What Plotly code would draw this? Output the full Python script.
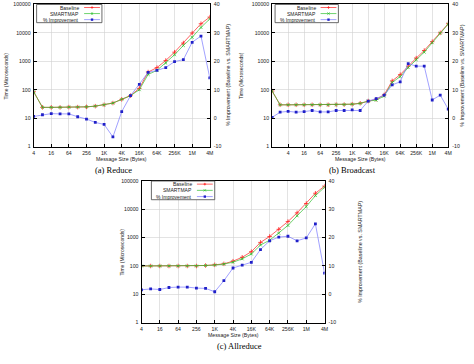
import math
import plotly.graph_objects as go

# ---------------- data ----------------
msg_sizes_reduce = [4, 8, 16, 32, 64, 128, 256, 512, 1024, 2048, 4096, 8192, 16384, 32768,
                    65536, 131072, 262144, 524288, 1048576, 2097152, 4194304]
msg_sizes_bcast = [1, 2, 4, 8, 16, 32, 64, 128, 256, 512, 1024, 2048, 4096, 8192, 16384, 32768,
                   65536, 131072, 262144, 524288, 1048576, 2097152, 4194304]
msg_sizes_allreduce = [4, 8, 16, 32, 64, 128, 256, 512, 1024, 2048, 4096, 8192, 16384, 32768,
                       65536, 131072, 262144, 524288, 1048576, 2097152, 4194304]

reduce_baseline = [85, 24, 24, 24, 24.5, 24.5, 25, 26.5, 29.5, 34, 46, 62, 112, 420, 600,
                   1070, 2100, 4400, 9900, 21000, 36000]
reduce_smartmap = [85, 24, 24, 24, 24.5, 24.5, 25, 26.5, 29.5, 34, 46, 62, 100, 345, 480,
                   870, 1700, 3600, 7000, 15500, 31000]
reduce_improvement = [0.6, 1.2, 1.6, 1.5, 1.5, 0.5, -0.3, -1.5, -2.2, -6.6, 2.3, 7.9, 11.9,
                      16.1, 16.8, 17.8, 19.9, 20.6, 26.7, 28.9, 14.2]

bcast_baseline = [90, 29.5, 29.5, 29.5, 29.5, 29.5, 29.5, 29.5, 30, 30, 31, 33.5, 40, 46, 66,
                  205, 340, 680, 1300, 2400, 4900, 10000, 21000]
bcast_smartmap = [90, 29.5, 29.5, 29.5, 29.5, 29.5, 29.5, 29.5, 30, 30, 31, 33, 40, 43, 60,
                  180, 290, 600, 1150, 2100, 4500, 9800, 20500]
bcast_improvement = [0.3, 2.1, 2.4, 2.1, 2.3, 2.7, 2.2, 2.2, 2.7, 2.7, 2.9, 2.7, 6.0, 6.9, 8.1,
                     11.7, 12.8, 19.2, 18.3, 18.3, 6.4, 8.1, 3.2]

allreduce_baseline = [100, 100, 100, 100, 100, 100, 100, 104, 110, 119, 148, 203, 320, 680,
                      1100, 1970, 3700, 7500, 16000, 37000, 66000]
allreduce_smartmap = [100, 100, 100, 100, 100, 100, 100, 104, 108, 117, 136, 178, 265, 550,
                      810, 1430, 2700, 5900, 12500, 30500, 60000]
allreduce_improvement = [1.6, 1.9, 1.7, 2.4, 2.55, 2.55, 2.2, 2.1, 0.9, 4.8, 9.3, 10.3, 11.3,
                         15.8, 18.9, 20.2, 20.5, 18.9, 19.9, 24.9, 7.5]

x_tick_vals = [4, 16, 64, 256, 1024, 4096, 16384, 65536, 262144, 1048576, 4194304]
x_tick_text = ["4", "16", "64", "256", "1K", "4K", "16K", "64K", "256K", "1M", "4M"]
time_tick_vals = [1, 10, 100, 1000, 10000, 100000]
time_tick_text = ["1", "10", "100", "1000", "10000", "100000"]
pct_tick_vals = [-10, 0, 10, 20, 30, 40]
pct_tick_text = ["-10", "0", "10", "20", "30", "40"]

series_names = ["Baseline", "SMARTMAP", "% Improvement"]
captions = ["(a) Reduce", "(b) Broadcast", "(c) Allreduce"]
x_title = "Message Size (Bytes)"
left_title = "Time (Microseconds)"
right_title = "% Improvement (Baseline vs. SMARTMAP)"

# ---------------- styling ----------------
W, H = 474, 364
RED = "#ff2020"
GREEN = "#30c030"
BLUE_LINE = "#7878ff"
BLUE_MARK = "#2020c8"
GRID = "#d0d0d0"
SANS = "Liberation Sans, Arial, sans-serif"
SERIF = "Liberation Serif, Times New Roman, serif"


def px(x):
    return x / W


def py(y):
    return 1 - y / H


# panel geometry in pixels: left, right, top, bottom
panels = [
    dict(l=33, r=211, t=1.5, b=146, sizes=msg_sizes_reduce, base=reduce_baseline,
         smart=reduce_smartmap, impr=reduce_improvement, xlo=4,
         ltitle_x=5, rtitle_x=229, cap_x=114, leg=(36, 102, 1.5, 20)),
    dict(l=274, r=452, t=1.5, b=146, sizes=msg_sizes_bcast, base=bcast_baseline,
         smart=bcast_smartmap, impr=bcast_improvement, xlo=1,
         ltitle_x=242, rtitle_x=465, cap_x=355, leg=(277, 341, 1.5, 20)),
    dict(l=142, r=327, t=181, b=325, sizes=msg_sizes_allreduce, base=allreduce_baseline,
         smart=allreduce_smartmap, impr=allreduce_improvement, xlo=4,
         ltitle_x=122, rtitle_x=363, cap_x=241, leg=(152, 216, 181, 200)),
]

fig = go.Figure()
layout = dict(width=W, height=H, margin=dict(l=0, r=0, t=0, b=0),
              paper_bgcolor="white", plot_bgcolor="white", showlegend=False)
annotations = []
shapes = []

tick_font = dict(family=SANS, size=5.2, color="#222")

for i, p in enumerate(panels):
    n = i + 1
    xname = "x" if n == 1 else f"x{n}"
    yl = 2 * n - 1
    yr = 2 * n
    ylname = "y" if yl == 1 else f"y{yl}"
    yrname = f"y{yr}"
    xkey = "xaxis" if n == 1 else f"xaxis{n}"
    ylkey = "yaxis" if yl == 1 else f"yaxis{yl}"
    yrkey = f"yaxis{yr}"

    xdom = [px(p["l"]), px(p["r"])]
    ydom = [py(p["b"]), py(p["t"])]

    layout[xkey] = dict(domain=xdom, anchor=ylname, type="log",
                        range=[math.log10(p["xlo"]), math.log10(4194304)],
                        tickvals=x_tick_vals, ticktext=x_tick_text, tickfont=tick_font,
                        showgrid=True, gridcolor=GRID, gridwidth=0.6,
                        showline=True, linecolor="black", linewidth=1, mirror=True,
                        ticks="inside", ticklen=3, tickcolor="black", ticklabelstandoff=1,
                        zeroline=False)
    layout[ylkey] = dict(domain=ydom, anchor=xname, type="log", range=[0, 5],
                         tickvals=time_tick_vals, ticktext=time_tick_text, tickfont=tick_font,
                         showgrid=True, gridcolor=GRID, gridwidth=0.6,
                         showline=True, linecolor="black", linewidth=1, mirror=True,
                         ticks="inside", ticklen=3, tickcolor="black", ticklabelstandoff=1,
                         zeroline=False)
    layout[yrkey] = dict(domain=ydom, anchor=xname, overlaying=ylname, side="right",
                         range=[-10, 40], tickvals=pct_tick_vals, ticktext=pct_tick_text,
                         tickfont=tick_font, showgrid=False,
                         showline=True, linecolor="black", linewidth=1,
                         ticks="inside", ticklen=3, tickcolor="black", ticklabelstandoff=2,
                         zeroline=False)

    fig.add_trace(go.Scatter(x=p["sizes"], y=p["base"], name=series_names[0],
                             mode="lines+markers", xaxis=xname, yaxis=ylname,
                             line=dict(color=RED, width=0.7),
                             marker=dict(symbol="cross-thin", size=3.2,
                                         line=dict(color=RED, width=0.8))))
    fig.add_trace(go.Scatter(x=p["sizes"], y=p["smart"], name=series_names[1],
                             mode="lines+markers", xaxis=xname, yaxis=ylname,
                             line=dict(color=GREEN, width=0.7),
                             marker=dict(symbol="x-thin", size=2.8,
                                         line=dict(color=GREEN, width=0.8))))
    fig.add_trace(go.Scatter(x=p["sizes"], y=p["impr"], name=series_names[2],
                             mode="lines+markers", xaxis=xname, yaxis=yrname,
                             line=dict(color=BLUE_LINE, width=0.7),
                             marker=dict(symbol="square", size=2.8, color=BLUE_MARK)))

    cy = (p["t"] + p["b"]) / 2
    cx = (p["l"] + p["r"]) / 2
    # axis titles
    annotations.append(dict(text=left_title, x=px(p["ltitle_x"]), y=py(cy), xref="paper",
                            yref="paper", showarrow=False, textangle=-90,
                            font=dict(family=SANS, size=5, color="#222"),
                            xanchor="center", yanchor="middle"))
    annotations.append(dict(text=right_title, x=px(p["rtitle_x"]), y=py(cy), xref="paper",
                            yref="paper", showarrow=False, textangle=-90,
                            font=dict(family=SANS, size=5.3, color="#222"),
                            xanchor="center", yanchor="middle"))
    annotations.append(dict(text=x_title, x=px(cx), y=py(p["b"] + 13), xref="paper",
                            yref="paper", showarrow=False,
                            font=dict(family=SANS, size=5.2, color="#222"),
                            xanchor="center", yanchor="middle"))
    annotations.append(dict(text=captions[i], x=px(p["cap_x"]), y=py(p["b"] + 24),
                            xref="paper", yref="paper", showarrow=False,
                            font=dict(family=SERIF, size=8.5, color="black"),
                            xanchor="center", yanchor="middle"))

    # custom gnuplot-style key
    lx0, lx1, ly0, ly1 = p["leg"]
    shapes.append(dict(type="rect", xref="paper", yref="paper",
                       x0=px(lx0), x1=px(lx1), y0=py(ly1), y1=py(ly0),
                       line=dict(color="#444", width=0.8), fillcolor="white", layer="above"))
    row_h = (ly1 - ly0) / 3
    text_r = lx1 - 21
    s0, s1 = lx1 - 18, lx1 - 2
    colors = [RED, GREEN, BLUE_LINE]
    for k in range(3):
        ry = ly0 + row_h * (k + 0.5)
        annotations.append(dict(text=series_names[k], x=px(text_r), y=py(ry), xref="paper",
                                yref="paper", showarrow=False, xanchor="right",
                                yanchor="middle",
                                font=dict(family=SANS, size=5, color="#222")))
        shapes.append(dict(type="line", xref="paper", yref="paper", x0=px(s0), x1=px(s1),
                           y0=py(ry), y1=py(ry), line=dict(color=colors[k], width=0.7),
                           layer="above"))
        mx = (s0 + s1) / 2
        if k == 0:
            shapes.append(dict(type="line", xref="paper", yref="paper", x0=px(mx - 1.3),
                               x1=px(mx + 1.3), y0=py(ry), y1=py(ry),
                               line=dict(color=RED, width=0.8), layer="above"))
            shapes.append(dict(type="line", xref="paper", yref="paper", x0=px(mx), x1=px(mx),
                               y0=py(ry - 1.3), y1=py(ry + 1.3),
                               line=dict(color=RED, width=0.8), layer="above"))
        elif k == 1:
            shapes.append(dict(type="line", xref="paper", yref="paper", x0=px(mx - 1.1),
                               x1=px(mx + 1.1), y0=py(ry - 1.1), y1=py(ry + 1.1),
                               line=dict(color=GREEN, width=0.8), layer="above"))
            shapes.append(dict(type="line", xref="paper", yref="paper", x0=px(mx - 1.1),
                               x1=px(mx + 1.1), y0=py(ry + 1.1), y1=py(ry - 1.1),
                               line=dict(color=GREEN, width=0.8), layer="above"))
        else:
            shapes.append(dict(type="rect", xref="paper", yref="paper", x0=px(mx - 1.2),
                               x1=px(mx + 1.2), y0=py(ry + 1.2), y1=py(ry - 1.2),
                               line=dict(width=0), fillcolor=BLUE_MARK, layer="above"))

layout["annotations"] = annotations
layout["shapes"] = shapes
fig.update_layout(**layout)
fig.write_html("out.html",
               config={"displayModeBar": False, "staticPlot": True},
               post_script="document.body.style.margin='0px';"
                           "document.body.style.overflow='hidden';")
